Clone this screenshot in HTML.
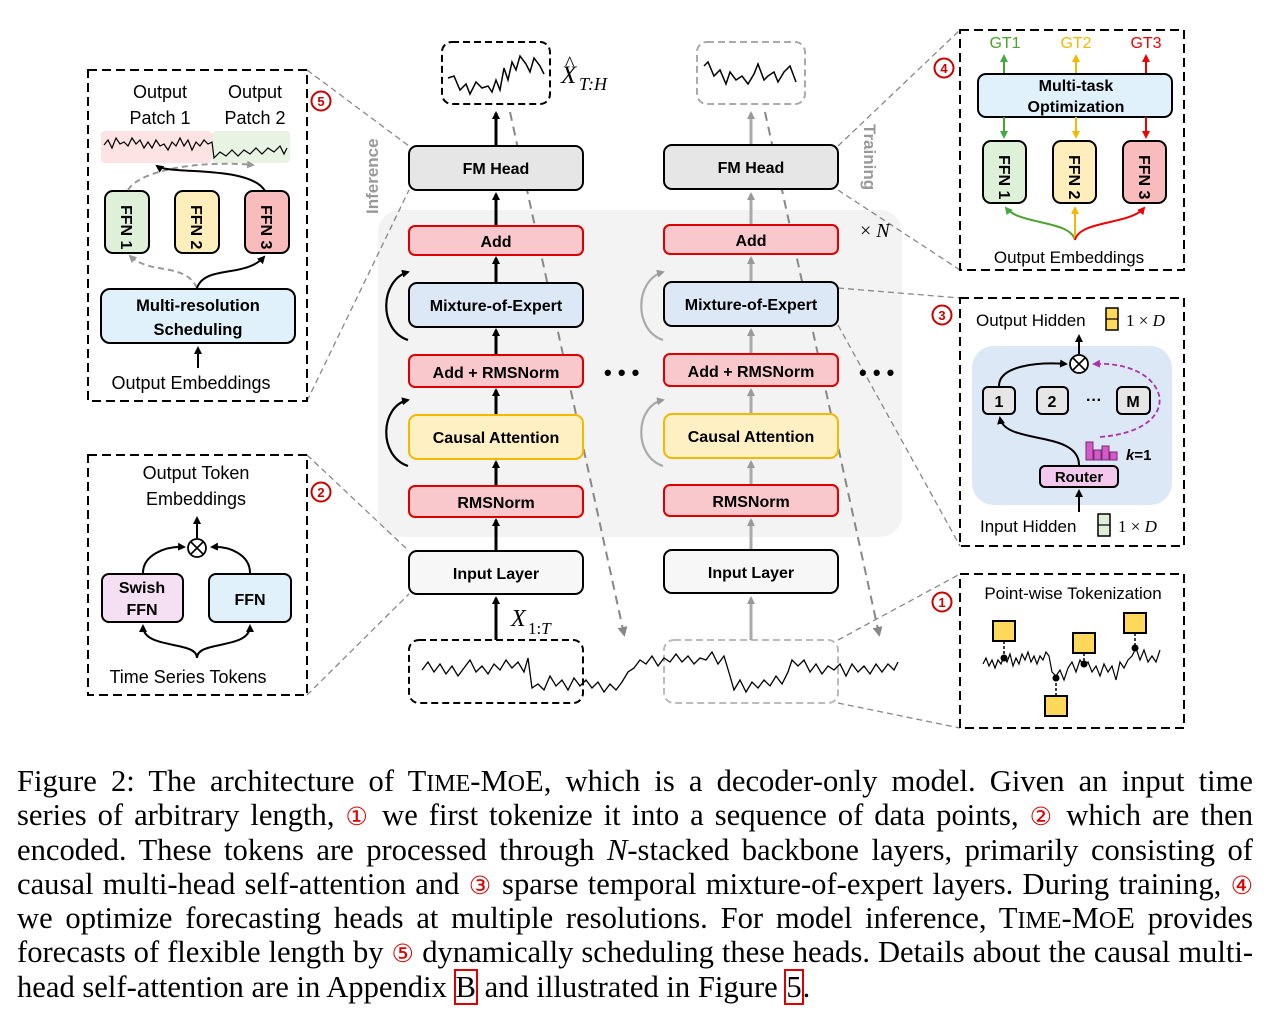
<!DOCTYPE html>
<html><head><meta charset="utf-8"><style>
body{margin:0;background:#fff;width:1285px;height:1027px;overflow:hidden;position:relative}
svg{position:absolute;left:0;top:0}
.cap{position:absolute;left:17px;width:1236px;font-family:"Liberation Serif",serif;font-size:30.6px;line-height:34.3px;top:764px;color:#000}
.cap div{text-align:justify;text-align-last:justify;white-space:nowrap;height:34.3px}
.cap div.last{text-align-last:left}
.sc{font-size:24px}
.r{color:#d00;font-size:25px}
.bx{outline:2px solid #d00;outline-offset:-1px;padding:0 1px}
</style></head><body>
<svg width="1285" height="1027" viewBox="0 0 1285 1027" font-family="Liberation Sans, sans-serif">
<defs>
<marker id="ab" markerWidth="8" markerHeight="8" refX="6" refY="4" orient="auto" markerUnits="userSpaceOnUse"><path d="M0,0 L8,4 L0,8 z" fill="#000"/></marker>
<marker id="ag" markerWidth="8" markerHeight="8" refX="6" refY="4" orient="auto" markerUnits="userSpaceOnUse"><path d="M0,0 L8,4 L0,8 z" fill="#999"/></marker>
<marker id="ag2" markerWidth="10" markerHeight="10" refX="7" refY="5" orient="auto" markerUnits="userSpaceOnUse"><path d="M0,0 L10,5 L0,10 z" fill="#888"/></marker>
<marker id="agr" markerWidth="8" markerHeight="8" refX="6" refY="4" orient="auto" markerUnits="userSpaceOnUse"><path d="M0,0 L8,4 L0,8 z" fill="#4a4"/></marker>
<marker id="ay" markerWidth="8" markerHeight="8" refX="6" refY="4" orient="auto" markerUnits="userSpaceOnUse"><path d="M0,0 L8,4 L0,8 z" fill="#f5b800"/></marker>
<marker id="ar" markerWidth="8" markerHeight="8" refX="6" refY="4" orient="auto" markerUnits="userSpaceOnUse"><path d="M0,0 L8,4 L0,8 z" fill="#e00"/></marker>
<marker id="ap" markerWidth="8" markerHeight="8" refX="6" refY="4" orient="auto" markerUnits="userSpaceOnUse"><path d="M0,0 L8,4 L0,8 z" fill="#a3a"/></marker>
</defs>

<rect x="378" y="210" width="524" height="327" rx="22" fill="#f3f3f3"/>

<g stroke="#888" stroke-width="1.3" stroke-dasharray="6,4" fill="none">
<line x1="307" y1="70" x2="409" y2="146"/><line x1="307" y1="401" x2="409" y2="190"/>
<line x1="307" y1="455" x2="409" y2="551"/><line x1="307" y1="695" x2="409" y2="594"/>
<line x1="838" y1="146" x2="960" y2="30"/><line x1="838" y1="190" x2="960" y2="270"/>
<line x1="838" y1="288" x2="960" y2="298"/><line x1="838" y1="325" x2="960" y2="546"/>
<line x1="838" y1="640" x2="960" y2="574"/><line x1="838" y1="703" x2="960" y2="728"/>
</g>
<g stroke="#888" stroke-width="2" stroke-dasharray="9,6" fill="none">
<line x1="510" y1="112" x2="624" y2="634" marker-end="url(#ag2)"/>
<line x1="765" y1="112" x2="879" y2="634" marker-end="url(#ag2)"/>
</g>

<rect x="442" y="42" width="108" height="62" rx="10" fill="#fff" stroke="#000" stroke-width="2" stroke-dasharray="7,4"/>
<rect x="697" y="42" width="108" height="62" rx="10" fill="#fff" stroke="#aaa" stroke-width="2" stroke-dasharray="7,4"/>
<polyline fill="none" stroke="#000" stroke-width="1.5" points="448,78 454,76 460,90 466,84 470,94 476,82 482,88 488,86 492,92 496,80 500,90 504,68 508,80 512,62 516,70 520,56 526,64 530,72 534,58 540,66 544,74"/>
<polyline fill="none" stroke="#000" stroke-width="1.5" points="704,66 708,62 714,76 720,70 726,84 730,72 736,80 742,76 748,84 754,74 758,64 764,80 768,76 774,72 778,82 784,72 790,66 796,82"/>
<text x="561" y="83" font-family="Liberation Serif, serif" font-style="italic" font-size="25">X</text>
<text x="565" y="70" font-family="Liberation Serif, serif" font-size="20">^</text>
<text x="579" y="90" font-family="Liberation Serif, serif" font-style="italic" font-size="18">T:H</text>

<rect x="409" y="640" width="174" height="63" rx="10" fill="none" stroke="#000" stroke-width="2" stroke-dasharray="7,4"/>
<rect x="664" y="640" width="174" height="63" rx="10" fill="none" stroke="#bbb" stroke-width="2" stroke-dasharray="7,4"/>
<polyline fill="none" stroke="#000" stroke-width="1.3" points="422,670 428,662 434,672 440,664 446,674 452,666 458,676 464,668 470,660 476,672 482,666 488,674 494,664 500,670 506,660 512,668 518,662 524,672 528,658 532,688 538,684 544,690 550,676 556,686 562,680 568,690 574,678 580,686 586,680 592,688 598,682 604,692 610,684 616,690 622,682 628,672 634,668 640,660 646,664 652,656 658,666 664,658 670,662 676,654 682,662 688,656 694,664 700,658 706,660 712,652 718,664 724,656 730,676 734,690 740,680 746,692 752,682 758,688 764,680 770,686 776,676 782,684 788,672 792,660 798,666 804,660 810,672 816,664 822,674 828,666 834,670 840,664 846,676 852,664 858,672 864,666 870,674 876,664 882,672 888,664 894,670 898,662"/>
<text x="511" y="626" font-family="Liberation Serif, serif" font-style="italic" font-size="24">X</text>
<text x="528" y="634" font-family="Liberation Serif, serif" font-size="17"><tspan font-style="normal">1:</tspan><tspan font-style="italic">T</tspan></text>

<g stroke="#000" stroke-width="3" fill="none" marker-end="url(#ab)">
<line x1="496" y1="640" x2="496" y2="598"/><line x1="496" y1="551" x2="496" y2="520"/>
<line x1="496" y1="486" x2="496" y2="462"/><line x1="496" y1="415" x2="496" y2="390"/>
<line x1="496" y1="355" x2="496" y2="330"/><line x1="496" y1="283" x2="496" y2="258"/>
<line x1="496" y1="226" x2="496" y2="194"/><line x1="496" y1="146" x2="496" y2="113"/>
</g>
<g stroke="#000" stroke-width="2.2" fill="none" marker-end="url(#ab)">
<path d="M408,340 C378,330 380,280 408,272"/>
<path d="M408,466 C378,456 380,406 408,400"/>
</g>
<g stroke="#aaa" stroke-width="3" fill="none" marker-end="url(#ag)">
<line x1="751" y1="640" x2="751" y2="598"/><line x1="751" y1="551" x2="751" y2="520"/>
<line x1="751" y1="486" x2="751" y2="462"/><line x1="751" y1="415" x2="751" y2="390"/>
<line x1="751" y1="355" x2="751" y2="330"/><line x1="751" y1="283" x2="751" y2="258"/>
<line x1="751" y1="226" x2="751" y2="194"/><line x1="751" y1="146" x2="751" y2="113"/>
</g>
<g stroke="#aaa" stroke-width="2.2" fill="none" marker-end="url(#ag)">
<path d="M663,340 C633,330 635,280 663,272"/>
<path d="M663,466 C633,456 635,406 663,400"/>
</g>

<g font-weight="bold" font-size="16" text-anchor="middle">
<rect x="409" y="146" width="174" height="44" rx="8" fill="#e6e6e6" stroke="#000" stroke-width="2"/><text x="496" y="174">FM Head</text>
<rect x="409" y="226" width="174" height="29" rx="6" fill="#f8c8cc" stroke="#d00" stroke-width="2"/><text x="496" y="247">Add</text>
<rect x="409" y="283" width="174" height="44" rx="8" fill="#dce8f5" stroke="#000" stroke-width="2"/><text x="496" y="311">Mixture-of-Expert</text>
<rect x="409" y="355" width="174" height="32" rx="6" fill="#f8c8cc" stroke="#d00" stroke-width="2"/><text x="496" y="378">Add + RMSNorm</text>
<rect x="409" y="415" width="174" height="44" rx="8" fill="#fff0c4" stroke="#f5b800" stroke-width="2"/><text x="496" y="443">Causal Attention</text>
<rect x="409" y="486" width="174" height="31" rx="6" fill="#f8c8cc" stroke="#d00" stroke-width="2"/><text x="496" y="508">RMSNorm</text>
<rect x="409" y="551" width="174" height="43" rx="8" fill="#f7f7f7" stroke="#000" stroke-width="2"/><text x="496" y="579">Input Layer</text>

<rect x="664" y="145" width="174" height="44" rx="8" fill="#e6e6e6" stroke="#000" stroke-width="2"/><text x="751" y="173">FM Head</text>
<rect x="664" y="225" width="174" height="29" rx="6" fill="#f8c8cc" stroke="#d00" stroke-width="2"/><text x="751" y="246">Add</text>
<rect x="664" y="282" width="174" height="44" rx="8" fill="#dce8f5" stroke="#000" stroke-width="2"/><text x="751" y="310">Mixture-of-Expert</text>
<rect x="664" y="354" width="174" height="32" rx="6" fill="#f8c8cc" stroke="#d00" stroke-width="2"/><text x="751" y="377">Add + RMSNorm</text>
<rect x="664" y="414" width="174" height="44" rx="8" fill="#fff0c4" stroke="#f5b800" stroke-width="2"/><text x="751" y="442">Causal Attention</text>
<rect x="664" y="485" width="174" height="31" rx="6" fill="#f8c8cc" stroke="#d00" stroke-width="2"/><text x="751" y="507">RMSNorm</text>
<rect x="664" y="550" width="174" height="43" rx="8" fill="#f7f7f7" stroke="#000" stroke-width="2"/><text x="751" y="578">Input Layer</text>
</g>
<text x="604" y="380" font-size="22" font-weight="bold">• • •</text>
<text x="859" y="380" font-size="22" font-weight="bold">• • •</text>
<text x="860" y="237" font-family="Liberation Serif, serif" font-size="20">× <tspan font-style="italic">N</tspan></text>
<text transform="translate(378,214) rotate(-90)" font-size="17" font-weight="bold" fill="#999">Inference</text>
<text transform="translate(864,124) rotate(90)" font-size="17" font-weight="bold" fill="#999">Training</text>

<g fill="#fff" stroke="#c00" stroke-width="2">
<circle cx="321" cy="101" r="9.5"/><circle cx="321" cy="492" r="9.5"/><circle cx="944" cy="68" r="9.5"/><circle cx="942" cy="315" r="9.5"/><circle cx="942" cy="602" r="9.5"/>
</g>
<g fill="#c00" font-size="13" font-weight="bold" text-anchor="middle">
<text x="321" y="106">5</text><text x="321" y="497">2</text><text x="944" y="73">4</text><text x="942" y="320">3</text><text x="942" y="607">1</text>
</g>

<g fill="none" stroke="#000" stroke-width="2" stroke-dasharray="9,5">
<rect x="88" y="70" width="219" height="331"/>
<rect x="88" y="455" width="219" height="240"/>
<rect x="960" y="30" width="224" height="240"/>
<rect x="960" y="298" width="224" height="248"/>
<rect x="960" y="574" width="224" height="154"/>
</g>

<g font-size="18" text-anchor="middle">
<text x="160" y="98">Output</text><text x="160" y="124">Patch 1</text>
<text x="255" y="98">Output</text><text x="255" y="124">Patch 2</text>
<text x="191" y="389">Output Embeddings</text>
</g>
<rect x="101" y="131" width="111" height="32" rx="4" fill="#fde3e3"/>
<rect x="212" y="131" width="78" height="32" rx="4" fill="#e9f3e4"/>
<polyline fill="none" stroke="#000" stroke-width="1.2" points="104,145 108,140 112,148 116,138 120,144 124,142 128,146 132,138 136,144 140,140 144,148 148,142 152,148 156,140 160,146 164,144 168,150 172,142 176,146 180,138 184,146 188,140 192,150 196,142 200,146 204,140 208,144 212,142 214,158 220,152 226,156 232,150 238,156 244,150 250,154 256,148 262,154 268,148 274,152 280,146 284,154 287,148"/>
<rect x="105" y="191" width="44" height="62" rx="8" fill="#dff0d8" stroke="#000" stroke-width="2"/>
<rect x="175" y="191" width="44" height="62" rx="8" fill="#fdeebb" stroke="#000" stroke-width="2"/>
<rect x="245" y="191" width="44" height="62" rx="8" fill="#f8bcbc" stroke="#000" stroke-width="2"/>
<g font-size="16" font-weight="bold">
<text transform="translate(121,205) rotate(90)">FFN 1</text>
<text transform="translate(191,205) rotate(90)">FFN 2</text>
<text transform="translate(261,205) rotate(90)">FFN 3</text>
</g>
<path d="M128,190 C140,170 200,160 253,165" fill="none" stroke="#999" stroke-width="2" stroke-dasharray="6,4" marker-end="url(#ag)"/>
<path d="M265,191 C250,165 170,175 157,166" fill="none" stroke="#000" stroke-width="2" marker-end="url(#ab)"/>
<path d="M197,288 C185,262 150,275 130,256" fill="none" stroke="#999" stroke-width="2" stroke-dasharray="6,4" marker-end="url(#ag)"/>
<path d="M197,288 C205,265 245,278 264,257" fill="none" stroke="#000" stroke-width="2" marker-end="url(#ab)"/>
<rect x="101" y="289" width="194" height="54" rx="9" fill="#e1f1fc" stroke="#000" stroke-width="2"/>
<g font-size="16.5" font-weight="bold" text-anchor="middle"><text x="198" y="311">Multi-resolution</text><text x="198" y="335">Scheduling</text></g>
<line x1="198" y1="368" x2="198" y2="348" stroke="#000" stroke-width="2" marker-end="url(#ab)"/>

<g font-size="18" text-anchor="middle">
<text x="196" y="479">Output Token</text><text x="196" y="505">Embeddings</text>
<text x="188" y="683">Time Series Tokens</text>
</g>
<circle cx="197" cy="548" r="9" fill="#fff" stroke="#000" stroke-width="1.8"/>
<path d="M191,542 L203,554 M203,542 L191,554" stroke="#000" stroke-width="1.6"/>
<line x1="197" y1="538" x2="197" y2="518" stroke="#000" stroke-width="2" marker-end="url(#ab)"/>
<path d="M143,573 C143,555 165,546 184,547" fill="none" stroke="#000" stroke-width="2" marker-end="url(#ab)"/>
<path d="M250,573 C250,555 230,546 212,547" fill="none" stroke="#000" stroke-width="2" marker-end="url(#ab)"/>
<rect x="102" y="574" width="81" height="48" rx="7" fill="#f5dff2" stroke="#000" stroke-width="2"/>
<rect x="209" y="574" width="82" height="48" rx="7" fill="#e1f1fc" stroke="#000" stroke-width="2"/>
<g font-size="16" font-weight="bold" text-anchor="middle"><text x="142" y="593">Swish</text><text x="142" y="615">FFN</text><text x="250" y="605">FFN</text></g>
<path d="M197,658 C197,640 143,650 143,626" fill="none" stroke="#000" stroke-width="2" marker-end="url(#ab)"/>
<path d="M197,658 C197,640 250,650 250,626" fill="none" stroke="#000" stroke-width="2" marker-end="url(#ab)"/>

<g font-size="16" text-anchor="middle"><text x="1005" y="48" fill="#4aa32a">GT1</text><text x="1076" y="48" fill="#f5b800">GT2</text><text x="1146" y="48" fill="#e00">GT3</text></g>
<line x1="1004" y1="74" x2="1004" y2="56" stroke="#4aa32a" stroke-width="2" marker-end="url(#agr)"/>
<line x1="1076" y1="74" x2="1076" y2="56" stroke="#f5b800" stroke-width="2" marker-end="url(#ay)"/>
<line x1="1146" y1="74" x2="1146" y2="56" stroke="#e00" stroke-width="2" marker-end="url(#ar)"/>
<rect x="978" y="74" width="194" height="43" rx="8" fill="#e1f1fc" stroke="#000" stroke-width="2"/>
<g font-size="16" font-weight="bold" text-anchor="middle"><text x="1076" y="91">Multi-task</text><text x="1076" y="112">Optimization</text></g>
<line x1="1004" y1="117" x2="1004" y2="137" stroke="#4aa32a" stroke-width="2" marker-end="url(#agr)"/>
<line x1="1076" y1="117" x2="1076" y2="137" stroke="#f5b800" stroke-width="2" marker-end="url(#ay)"/>
<line x1="1146" y1="117" x2="1146" y2="137" stroke="#e00" stroke-width="2" marker-end="url(#ar)"/>
<rect x="983" y="141" width="43" height="62" rx="8" fill="#dff0d8" stroke="#000" stroke-width="2"/>
<rect x="1053" y="141" width="43" height="62" rx="8" fill="#fdeebb" stroke="#000" stroke-width="2"/>
<rect x="1123" y="141" width="43" height="62" rx="8" fill="#f8bcbc" stroke="#000" stroke-width="2"/>
<g font-size="16" font-weight="bold">
<text transform="translate(999,155) rotate(90)">FFN 1</text>
<text transform="translate(1069,155) rotate(90)">FFN 2</text>
<text transform="translate(1139,155) rotate(90)">FFN 3</text>
</g>
<path d="M1075,240 C1070,220 1020,225 1006,208" fill="none" stroke="#4aa32a" stroke-width="2" marker-end="url(#agr)"/>
<line x1="1075" y1="240" x2="1075" y2="208" stroke="#f5b800" stroke-width="2" marker-end="url(#ay)"/>
<path d="M1075,240 C1080,220 1130,225 1144,208" fill="none" stroke="#e00" stroke-width="2" marker-end="url(#ar)"/>
<text x="1069" y="263" font-size="17" text-anchor="middle">Output Embeddings</text>

<text x="976" y="326" font-size="17">Output Hidden</text>
<rect x="1106" y="308" width="12" height="22" fill="#fdd85a" stroke="#000" stroke-width="1.5"/><line x1="1106" y1="319" x2="1118" y2="319" stroke="#000" stroke-width="1.2"/>
<text x="1126" y="326" font-family="Liberation Serif, serif" font-size="17">1 × <tspan font-style="italic">D</tspan></text>
<rect x="972" y="346" width="200" height="159" rx="22" fill="#dce8f5"/>
<line x1="1079" y1="354" x2="1079" y2="336" stroke="#000" stroke-width="2" marker-end="url(#ab)"/>
<circle cx="1079" cy="364" r="9" fill="#fff" stroke="#000" stroke-width="1.8"/>
<path d="M1073,358 L1085,370 M1085,358 L1073,370" stroke="#000" stroke-width="1.6"/>
<path d="M999,386 C999,365 1040,362 1066,364" fill="none" stroke="#000" stroke-width="2" marker-end="url(#ab)"/>
<path d="M1100,437 C1190,430 1170,360 1094,364" fill="none" stroke="#a3a" stroke-width="1.8" stroke-dasharray="5,3" marker-end="url(#ap)"/>
<g fill="#e6e6e6" stroke="#000" stroke-width="2"><rect x="983" y="387" width="32" height="27" rx="5"/><rect x="1037" y="387" width="31" height="27" rx="5"/><rect x="1117" y="387" width="33" height="27" rx="5"/></g>
<g font-size="16" font-weight="bold" text-anchor="middle"><text x="999" y="407">1</text><text x="1052" y="407">2</text><text x="1133" y="407">M</text><text x="1094" y="405">···</text></g>
<path d="M1079,465 C1079,430 1005,445 1000,418" fill="none" stroke="#000" stroke-width="2" marker-end="url(#ab)"/>
<g fill="#d35bc8" stroke="#7a2a75" stroke-width="1"><rect x="1086" y="442" width="7" height="18"/><rect x="1094" y="450" width="7" height="10"/><rect x="1102" y="446" width="7" height="14"/><rect x="1110" y="452" width="7" height="8"/></g>
<text x="1126" y="460" font-size="15" font-weight="bold"><tspan font-style="italic">k</tspan>=1</text>
<rect x="1040" y="466" width="78" height="21" rx="5" fill="#f2c9ec" stroke="#000" stroke-width="2"/>
<text x="1079" y="482" font-size="15" font-weight="bold" text-anchor="middle">Router</text>
<line x1="1079" y1="512" x2="1079" y2="491" stroke="#000" stroke-width="2" marker-end="url(#ab)"/>
<text x="980" y="532" font-size="17">Input Hidden</text>
<rect x="1098" y="514" width="12" height="22" fill="#dff0d8" stroke="#000" stroke-width="1.5"/><line x1="1098" y1="525" x2="1110" y2="525" stroke="#000" stroke-width="1.2"/>
<text x="1118" y="532" font-family="Liberation Serif, serif" font-size="17">1 × <tspan font-style="italic">D</tspan></text>

<text x="1073" y="599" font-size="17" text-anchor="middle">Point-wise Tokenization</text>
<polyline fill="none" stroke="#000" stroke-width="1.2" points="983,664 986,658 989,666 992,660 995,668 998,660 1001,664 1004,656 1007,662 1010,654 1013,666 1016,658 1019,664 1022,654 1025,660 1028,652 1031,662 1034,656 1037,664 1040,656 1043,660 1046,652 1049,656 1052,672 1056,676 1060,670 1064,680 1068,668 1072,662 1076,672 1080,660 1084,666 1088,662 1092,672 1096,666 1100,676 1104,664 1108,672 1112,666 1116,680 1120,662 1124,668 1128,660 1132,656 1136,648 1140,660 1144,650 1148,662 1152,656 1156,662 1160,650"/>
<g stroke="#000" stroke-width="1.5" stroke-dasharray="3,2"><line x1="1004" y1="641" x2="1004" y2="658"/><line x1="1084" y1="653" x2="1084" y2="664"/><line x1="1135" y1="633" x2="1135" y2="648"/><line x1="1056" y1="678" x2="1056" y2="696"/></g>
<g fill="#000"><circle cx="1004" cy="658" r="3.5"/><circle cx="1084" cy="664" r="3.5"/><circle cx="1135" cy="648" r="3.5"/><circle cx="1056" cy="678" r="3.5"/></g>
<g fill="#fdd85a" stroke="#000" stroke-width="2"><rect x="993" y="621" width="22" height="20"/><rect x="1073" y="633" width="22" height="20"/><rect x="1124" y="613" width="22" height="20"/><rect x="1045" y="696" width="22" height="20"/></g>
</svg>

<div class="cap">
<div>Figure 2: The architecture of T<span class="sc">IME</span>-M<span class="sc">O</span>E, which is a decoder-only model. Given an input time</div>
<div>series of arbitrary length, <span class="r">①</span> we first tokenize it into a sequence of data points, <span class="r">②</span> which are then</div>
<div>encoded. These tokens are processed through <i>N</i>-stacked backbone layers, primarily consisting of</div>
<div>causal multi-head self-attention and <span class="r">③</span> sparse temporal mixture-of-expert layers. During training, <span class="r">④</span></div>
<div>we optimize forecasting heads at multiple resolutions. For model inference, T<span class="sc">IME</span>-M<span class="sc">O</span>E provides</div>
<div>forecasts of flexible length by <span class="r">⑤</span> dynamically scheduling these heads. Details about the causal multi-</div>
<div class="last">head self-attention are in Appendix <span class="bx">B</span> and illustrated in Figure <span class="bx">5</span>.</div>
</div>
</body></html>
